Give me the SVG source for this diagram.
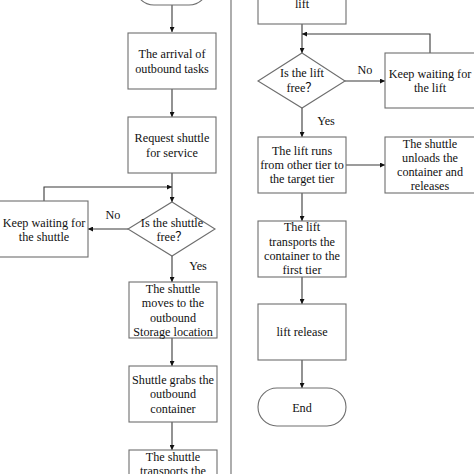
<svg xmlns="http://www.w3.org/2000/svg" width="474" height="474" viewBox="0 0 474 474">
<style>
.b{fill:#fff;stroke:#6e6e6e;stroke-width:1.1}
.c{fill:none;stroke:#3a3a3a;stroke-width:1.1}
text{font-family:"Liberation Serif","Times New Roman","Noto Sans CJK SC",serif;font-size:12.2px;fill:#111;text-anchor:middle}
</style>
<defs>
<marker id="a" viewBox="0 0 10 10" refX="10" refY="5" markerWidth="5" markerHeight="5" orient="auto" markerUnits="userSpaceOnUse">
<path d="M0,0L10,5L0,10z" fill="#111"/>
</marker>
</defs>
<rect width="474" height="474" fill="#fff"/>
<line x1="231" y1="0" x2="231" y2="474" stroke="#777" stroke-width="1.2"/>
<g id="connectors">
<path class="c" d="M172,5V32" marker-end="url(#a)"/>
<path class="c" d="M172,89V117" marker-end="url(#a)"/>
<path class="c" d="M172,173V202" marker-end="url(#a)"/>
<path class="c" d="M44,201V187H172" marker-end="url(#a)"/>
<path class="c" d="M128,229H88" marker-end="url(#a)"/>
<path class="c" d="M172,256V282" marker-end="url(#a)"/>
<path class="c" d="M172,338V366" marker-end="url(#a)"/>
<path class="c" d="M172,422V450" marker-end="url(#a)"/>
<path class="c" d="M302,24V53" marker-end="url(#a)"/>
<path class="c" d="M430,53V34H302" marker-end="url(#a)"/>
<path class="c" d="M345,81H385" marker-end="url(#a)"/>
<path class="c" d="M302,108V137" marker-end="url(#a)"/>
<path class="c" d="M346,165H385" marker-end="url(#a)"/>
<path class="c" d="M302,193V221" marker-end="url(#a)"/>
<path class="c" d="M302,277V304" marker-end="url(#a)"/>
<path class="c" d="M302,360V388" marker-end="url(#a)"/>
<text x="113" y="219">No</text>
<text x="198" y="270">Yes</text>
<text x="365" y="74">No</text>
<text x="326" y="125">Yes</text>
</g>
<g id="start"><rect class="b" x="135" y="-33" width="73" height="38" rx="19"/></g>
<g id="arrival"><rect class="b" x="128" y="33" width="88" height="56"/>
<text x="172" y="58">The arrival of</text><text x="172" y="73">outbound tasks</text></g>
<g id="request"><rect class="b" x="128" y="117" width="88" height="56"/>
<text x="172" y="142">Request shuttle</text><text x="172" y="157">for service</text></g>
<g id="shuttleFree"><path class="b" d="M172,202L215,229L172,256L128,229Z"/>
<text x="172" y="227">Is the shuttle</text><text x="172" y="241">free？</text></g>
<g id="waitShuttle"><rect class="b" x="-1" y="201" width="89" height="56"/>
<text x="44" y="227">Keep waiting for</text><text x="44" y="241">the shuttle</text></g>
<g id="moves"><rect class="b" x="129" y="282" width="88" height="56"/>
<text x="173" y="293">The shuttle</text><text x="173" y="307">moves to the</text><text x="173" y="322">outbound</text><text x="173" y="336">Storage location</text></g>
<g id="grabs"><rect class="b" x="129" y="366" width="88" height="56"/>
<text x="173" y="384">Shuttle grabs the</text><text x="173" y="398">outbound</text><text x="173" y="413">container</text></g>
<g id="transports"><rect class="b" x="129" y="450" width="88" height="56"/>
<text x="173" y="461">The shuttle</text><text x="173" y="475">transports the</text></g>
<g id="applyLift"><rect class="b" x="258" y="-32" width="88" height="56"/>
<text x="302" y="8">lift</text></g>
<g id="liftFree"><path class="b" d="M302,53L345,81L302,108L258,81Z"/>
<text x="302" y="77">Is the lift</text><text x="302" y="92">free？</text></g>
<g id="waitLift"><rect class="b" x="385" y="53" width="90" height="55"/>
<text x="430" y="78">Keep waiting for</text><text x="430" y="92">the lift</text></g>
<g id="liftRuns"><rect class="b" x="258" y="137" width="88" height="56"/>
<text x="302" y="155">The lift runs</text><text x="302" y="169">from other tier to</text><text x="302" y="183">the target tier</text></g>
<g id="unloads"><rect class="b" x="385" y="137" width="90" height="56"/>
<text x="430" y="148">The shuttle</text><text x="430" y="162">unloads the</text><text x="430" y="176">container and</text><text x="430" y="190">releases</text></g>
<g id="liftTransports"><rect class="b" x="258" y="221" width="88" height="56"/>
<text x="302" y="231">The lift</text><text x="302" y="246">transports the</text><text x="302" y="260">container to the</text><text x="302" y="274">first tier</text></g>
<g id="liftRelease"><rect class="b" x="258" y="304" width="88" height="56"/>
<text x="302" y="336">lift release</text></g>
<g id="end"><rect class="b" x="258" y="388" width="88" height="38" rx="19"/>
<text x="302" y="412">End</text></g>
</svg>
